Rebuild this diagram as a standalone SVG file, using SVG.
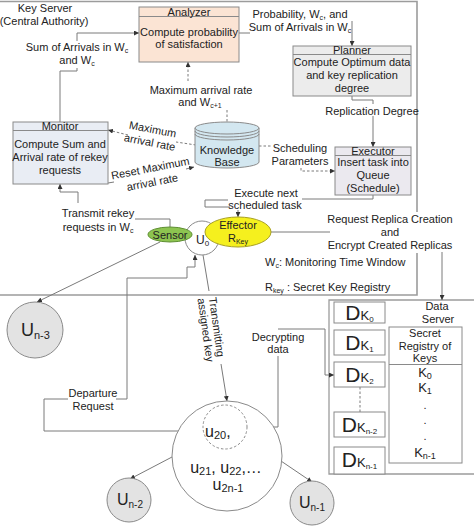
<svg xmlns="http://www.w3.org/2000/svg" width="474" height="526" viewBox="0 0 474 526">
<defs>
<style>
text{font-family:"Liberation Sans",Arial,sans-serif;font-size:11px;fill:#222}
.m{text-anchor:middle}
.s{font-size:7px}
.ln{fill:none;stroke:#7a7a7a;stroke-width:1}
.ar{marker-end:url(#ah)}
.d{stroke-dasharray:2.5,2}
.fr{fill:none;stroke:#9c9c9c;stroke-width:1.3}
.box{stroke:#8a8a8a;stroke-width:1}
.dk{fill:#fff;stroke:#8a8a8a;stroke-width:1}
.u{fill:#e3e3e3;stroke:#8a8a8a;stroke-width:1}
</style>
<marker id="ah" viewBox="0 0 6 6" markerWidth="5" markerHeight="5" refX="6" refY="3" orient="auto"><path d="M0,0 L6,3 L0,6 z" fill="#333"/></marker>
</defs>
<rect width="474" height="526" fill="#fff"/>

<g id="frames">
<path class="fr" d="M0,1.5 H417 V212 M417,253 V295 H0" style="stroke-width:1.6"/>
<path class="fr" d="M474,300 H329 V474 H474"/>
<text class="m" x="45" y="12">Key Server</text>
<text class="m" x="44" y="25">(Central Authority)</text>
<text class="m" x="437" y="310">Data</text>
<text class="m" x="438" y="323">Server</text>
</g>

<g id="connectors">
<!-- Monitor -> Analyzer -->
<path class="ln" d="M60,122 V71 H77 V68"/>
<path class="ln ar" d="M77,41 V33 H139"/>
<text class="m" x="77" y="51">Sum of Arrivals in W<tspan class="s" dy="2">c</tspan></text>
<text class="m" x="77" y="64">and W<tspan class="s" dy="2">c</tspan></text>
<!-- Analyzer -> Planner -->
<path class="ln" d="M239,33 H250"/>
<path class="ln ar" d="M352,21 V46"/>
<text class="m" x="300" y="18">Probability, W<tspan class="s" dy="2">c</tspan><tspan dy="-2">, and</tspan></text>
<text class="m" x="300" y="31">Sum of Arrivals in W<tspan class="s" dy="2">c</tspan></text>
<!-- Planner -> Executor -->
<path class="ln" d="M352,96 V100 H373 V104"/>
<path class="ln ar" d="M373,116 V147"/>
<text class="m" x="372" y="115">Replication Degree</text>
<!-- KB -> Analyzer -->
<path class="ln d ar" d="M188,81 V62"/>
<path class="ln d" d="M227,110 V122"/>
<text class="m" x="201" y="94">Maximum arrival rate</text>
<text class="m" x="200" y="106">and W<tspan class="s" dy="2">c+1</tspan></text>
<!-- KB -> Monitor -->
<path class="ln d" d="M196,145 L176,142"/>
<path class="ln d ar" d="M128,135 L108,130"/>
<text class="m" transform="translate(152,133) rotate(11)">Maximum</text>
<text class="m" transform="translate(149,146) rotate(11)">arrival rate</text>
<!-- Monitor -> KB reset -->
<path class="ln" d="M108,183 L114,182"/>
<path class="ln ar" d="M186,169 L194,167"/>
<text class="m" transform="translate(151,172) rotate(-11)">Reset Maximum</text>
<text class="m" transform="translate(153,186) rotate(-11)">arrival rate</text>
<!-- KB -> Executor -->
<path class="ln d" d="M259,146 H272"/>
<path class="ln d ar" d="M301,168 V171 H335"/>
<text class="m" x="300" y="152">Scheduling</text>
<text class="m" x="300" y="165">Parameters</text>
<!-- Executor -> Effector -->
<path class="ln" d="M373,195 V199 H302"/>
<path class="ln" d="M228,200 H205 V207 H230"/>
<path class="ln ar" d="M238,210 V217"/>
<text class="m" x="266" y="197">Execute next</text>
<text class="m" x="265" y="209">scheduled task</text>
<!-- Effector -> Data Server -->
<path class="ln" d="M271,232 H330"/>
<path class="ln ar" d="M442,252 V300"/>
<text class="m" x="390" y="223">Request Replica Creation</text>
<text class="m" x="390" y="236">and</text>
<text class="m" x="390" y="249">Encrypt Created Replicas</text>
<!-- Sensor -> Monitor -->
<path class="ln" d="M170,227 V219 H135"/>
<path class="ln ar" d="M78,203 V192 H60 V184"/>
<text class="m" x="98" y="217">Transmit rekey</text>
<text class="m" x="98" y="231">requests in W<tspan class="s" dy="2">c</tspan></text>
<!-- Sensor -> Un-3 -->
<path class="ln ar" d="M160,242 L37,302"/>
<!-- Departure -->
<path class="ln" d="M203,426 H200 V431 H44 V399 H68"/>
<path class="ln ar" d="M116,399 H127 V278 H187 V267 H195 V255"/>
<text class="m" x="93" y="397">Departure</text>
<text class="m" x="93" y="410">Request</text>
<!-- Transmitting assigned key -->
<path class="ln" d="M203,255 L209,291"/>
<path class="ln ar" d="M221,364 L227,401"/>
<text class="m" transform="translate(217,327) rotate(82)" y="4">Transmitting</text>
<text class="m" transform="translate(206,330) rotate(82)" y="4">assigned key</text>
<!-- Decrypting data -->
<path class="ln" d="M247,427 H278 V356"/>
<path class="ln ar" d="M278,329 H325 V375 H334"/>
<text class="m" x="278" y="341">Decrypting</text>
<text class="m" x="278" y="353">data</text>
<!-- Big circle -> Un-2, Un-1 -->
<path class="ln ar" d="M172,457 L130,479"/>
<path class="ln ar" d="M281,461 L312,482"/>
<!-- DK dashed -->
<path class="ln d" d="M360,387 V412"/>
</g>

<g id="analyzer">
<rect class="box" x="139" y="7" width="100" height="55" fill="#fbe4d4"/>
<line class="box" x1="139" y1="16.5" x2="239" y2="16.5"/>
<text class="m" x="189" y="15.5">Analyzer</text>
<text class="m" x="189" y="36">Compute probability</text>
<text class="m" x="189" y="48">of satisfaction</text>
</g>

<g id="planner">
<rect class="box" x="293" y="46" width="118" height="50" fill="#ececec"/>
<line class="box" x1="293" y1="54.5" x2="411" y2="54.5"/>
<text class="m" x="352" y="54">Planner</text>
<text class="m" x="352" y="66">Compute Optimum data</text>
<text class="m" x="352" y="79">and key replication</text>
<text class="m" x="352" y="92">degree</text>
</g>

<g id="executor">
<rect class="box" x="335" y="147" width="76" height="48" fill="#ebe9ef"/>
<line class="box" x1="335" y1="155.5" x2="411" y2="155.5"/>
<text class="m" x="373" y="155">Executor</text>
<text class="m" x="373" y="166">Insert task into</text>
<text class="m" x="373" y="179">Queue</text>
<text class="m" x="373" y="192">(Schedule)</text>
</g>

<g id="monitor">
<rect class="box" x="13" y="122" width="95" height="62" fill="#e9edf4"/>
<line class="box" x1="13" y1="130.5" x2="108" y2="130.5"/>
<text class="m" x="60" y="129.5">Monitor</text>
<text class="m" x="60" y="148">Compute Sum and</text>
<text class="m" x="60" y="161">Arrival rate of rekey</text>
<text class="m" x="60" y="174">requests</text>
</g>

<g id="knowledge-base">
<path class="box" d="M195,128 V162 A32,6 0 0 0 259,162 V128 Z" fill="#d3e7f0"/>
<ellipse class="box" cx="227" cy="128" rx="32" ry="6" fill="#d3e7f0"/>
<path class="box" d="M195,131 A32,6 0 0 0 259,131 M195,134 A32,6 0 0 0 259,134" fill="none"/>
<text class="m" x="227" y="154">Knowledge</text>
<text class="m" x="227" y="166">Base</text>
</g>

<g id="u0">
<circle cx="202" cy="238" r="17" fill="#fff" stroke="#8a8a8a"/>
<text x="196" y="244" style="font-size:12px">U<tspan style="font-size:8px" dy="2">0</tspan></text>
</g>

<g id="sensor">
<ellipse cx="170" cy="234.5" rx="22" ry="7.5" fill="#8dc450" stroke="#5f8f33"/>
<text class="m" x="170" y="238.5">Sensor</text>
</g>

<g id="effector">
<ellipse cx="238" cy="232" rx="33" ry="15" fill="#f5f01e" stroke="#a8a020"/>
<text class="m" x="238" y="229">Effector</text>
<text class="m" x="238" y="242">R<tspan class="s" dy="2">Key</tspan></text>
</g>

<g id="legend">
<text x="265" y="266">W<tspan class="s" dy="2">c</tspan><tspan dy="-2">: Monitoring Time Window</tspan></text>
<text x="265" y="291">R<tspan class="s" dy="2">key</tspan><tspan dy="-2"> : Secret Key Registry</tspan></text>
</g>

<g id="un3">
<circle class="u" cx="35" cy="330" r="28"/>
<text x="21" y="336" style="font-size:18px">U<tspan style="font-size:11px" dy="3">n-3</tspan></text>
</g>

<g id="group-circle">
<circle cx="227" cy="456" r="55" fill="#fff" stroke="#8a8a8a"/>
<circle cx="225" cy="427" r="22" fill="#fff" stroke="#8a8a8a" stroke-dasharray="2.5,2"/>
<text x="205" y="437" style="font-size:16px">u<tspan style="font-size:11px" dy="2">20</tspan><tspan dy="-2">,</tspan></text>
<text class="m" x="226" y="473" style="font-size:16px">u<tspan style="font-size:11px" dy="2">21</tspan><tspan dy="-2">, u</tspan><tspan style="font-size:11px" dy="2">22</tspan><tspan dy="-2">,…</tspan></text>
<text class="m" x="228" y="490" style="font-size:16px">u<tspan style="font-size:11px" dy="2">2n-1</tspan></text>
</g>

<g id="un2">
<circle class="u" cx="129" cy="500" r="22"/>
<text x="117" y="505" style="font-size:16px">U<tspan style="font-size:10px" dy="3">n-2</tspan></text>
</g>

<g id="un1">
<circle class="u" cx="312" cy="503" r="22"/>
<text x="299" y="508" style="font-size:16px">U<tspan style="font-size:10px" dy="3">n-1</tspan></text>
</g>

<g id="dk0">
<rect class="dk" x="334" y="302" width="51" height="21"/>
<text class="m" x="359.5" y="320" style="font-size:21px">D<tspan style="font-size:13px">K<tspan style="font-size:8px" dy="2">0</tspan></tspan></text>
</g>
<g id="dk1">
<rect class="dk" x="334" y="330" width="51" height="25"/>
<text class="m" x="359.5" y="350" style="font-size:21px">D<tspan style="font-size:13px">K<tspan style="font-size:8px" dy="2">1</tspan></tspan></text>
</g>
<g id="dk2">
<rect class="dk" x="334" y="362" width="51" height="25"/>
<text class="m" x="359.5" y="382" style="font-size:21px">D<tspan style="font-size:13px">K<tspan style="font-size:8px" dy="2">2</tspan></tspan></text>
</g>
<g id="dkn2">
<rect class="dk" x="334" y="412" width="51" height="25"/>
<text class="m" x="359.5" y="432" style="font-size:21px">D<tspan style="font-size:13px">K<tspan style="font-size:8px" dy="2">n-2</tspan></tspan></text>
</g>
<g id="dkn1">
<rect class="dk" x="334" y="447" width="51" height="27"/>
<text class="m" x="359.5" y="467" style="font-size:21px">D<tspan style="font-size:13px">K<tspan style="font-size:8px" dy="2">n-1</tspan></tspan></text>
</g>

<g id="registry">
<rect class="dk" x="389" y="327" width="73" height="136"/>
<line class="box" x1="389" y1="364.5" x2="462" y2="364.5"/>
<text class="m" x="425" y="337">Secret</text>
<text class="m" x="425" y="350">Registry of</text>
<text class="m" x="425" y="362">Keys</text>
<text class="m" x="425" y="377" style="font-size:13px">K<tspan style="font-size:9px" dy="2">0</tspan></text>
<text class="m" x="425" y="392" style="font-size:13px">K<tspan style="font-size:9px" dy="2">1</tspan></text>
<text class="m" x="425" y="409">.</text>
<text class="m" x="425" y="424">.</text>
<text class="m" x="425" y="440">.</text>
<text class="m" x="425" y="457" style="font-size:13px">K<tspan style="font-size:9px" dy="2">n-1</tspan></text>
</g>
</svg>
